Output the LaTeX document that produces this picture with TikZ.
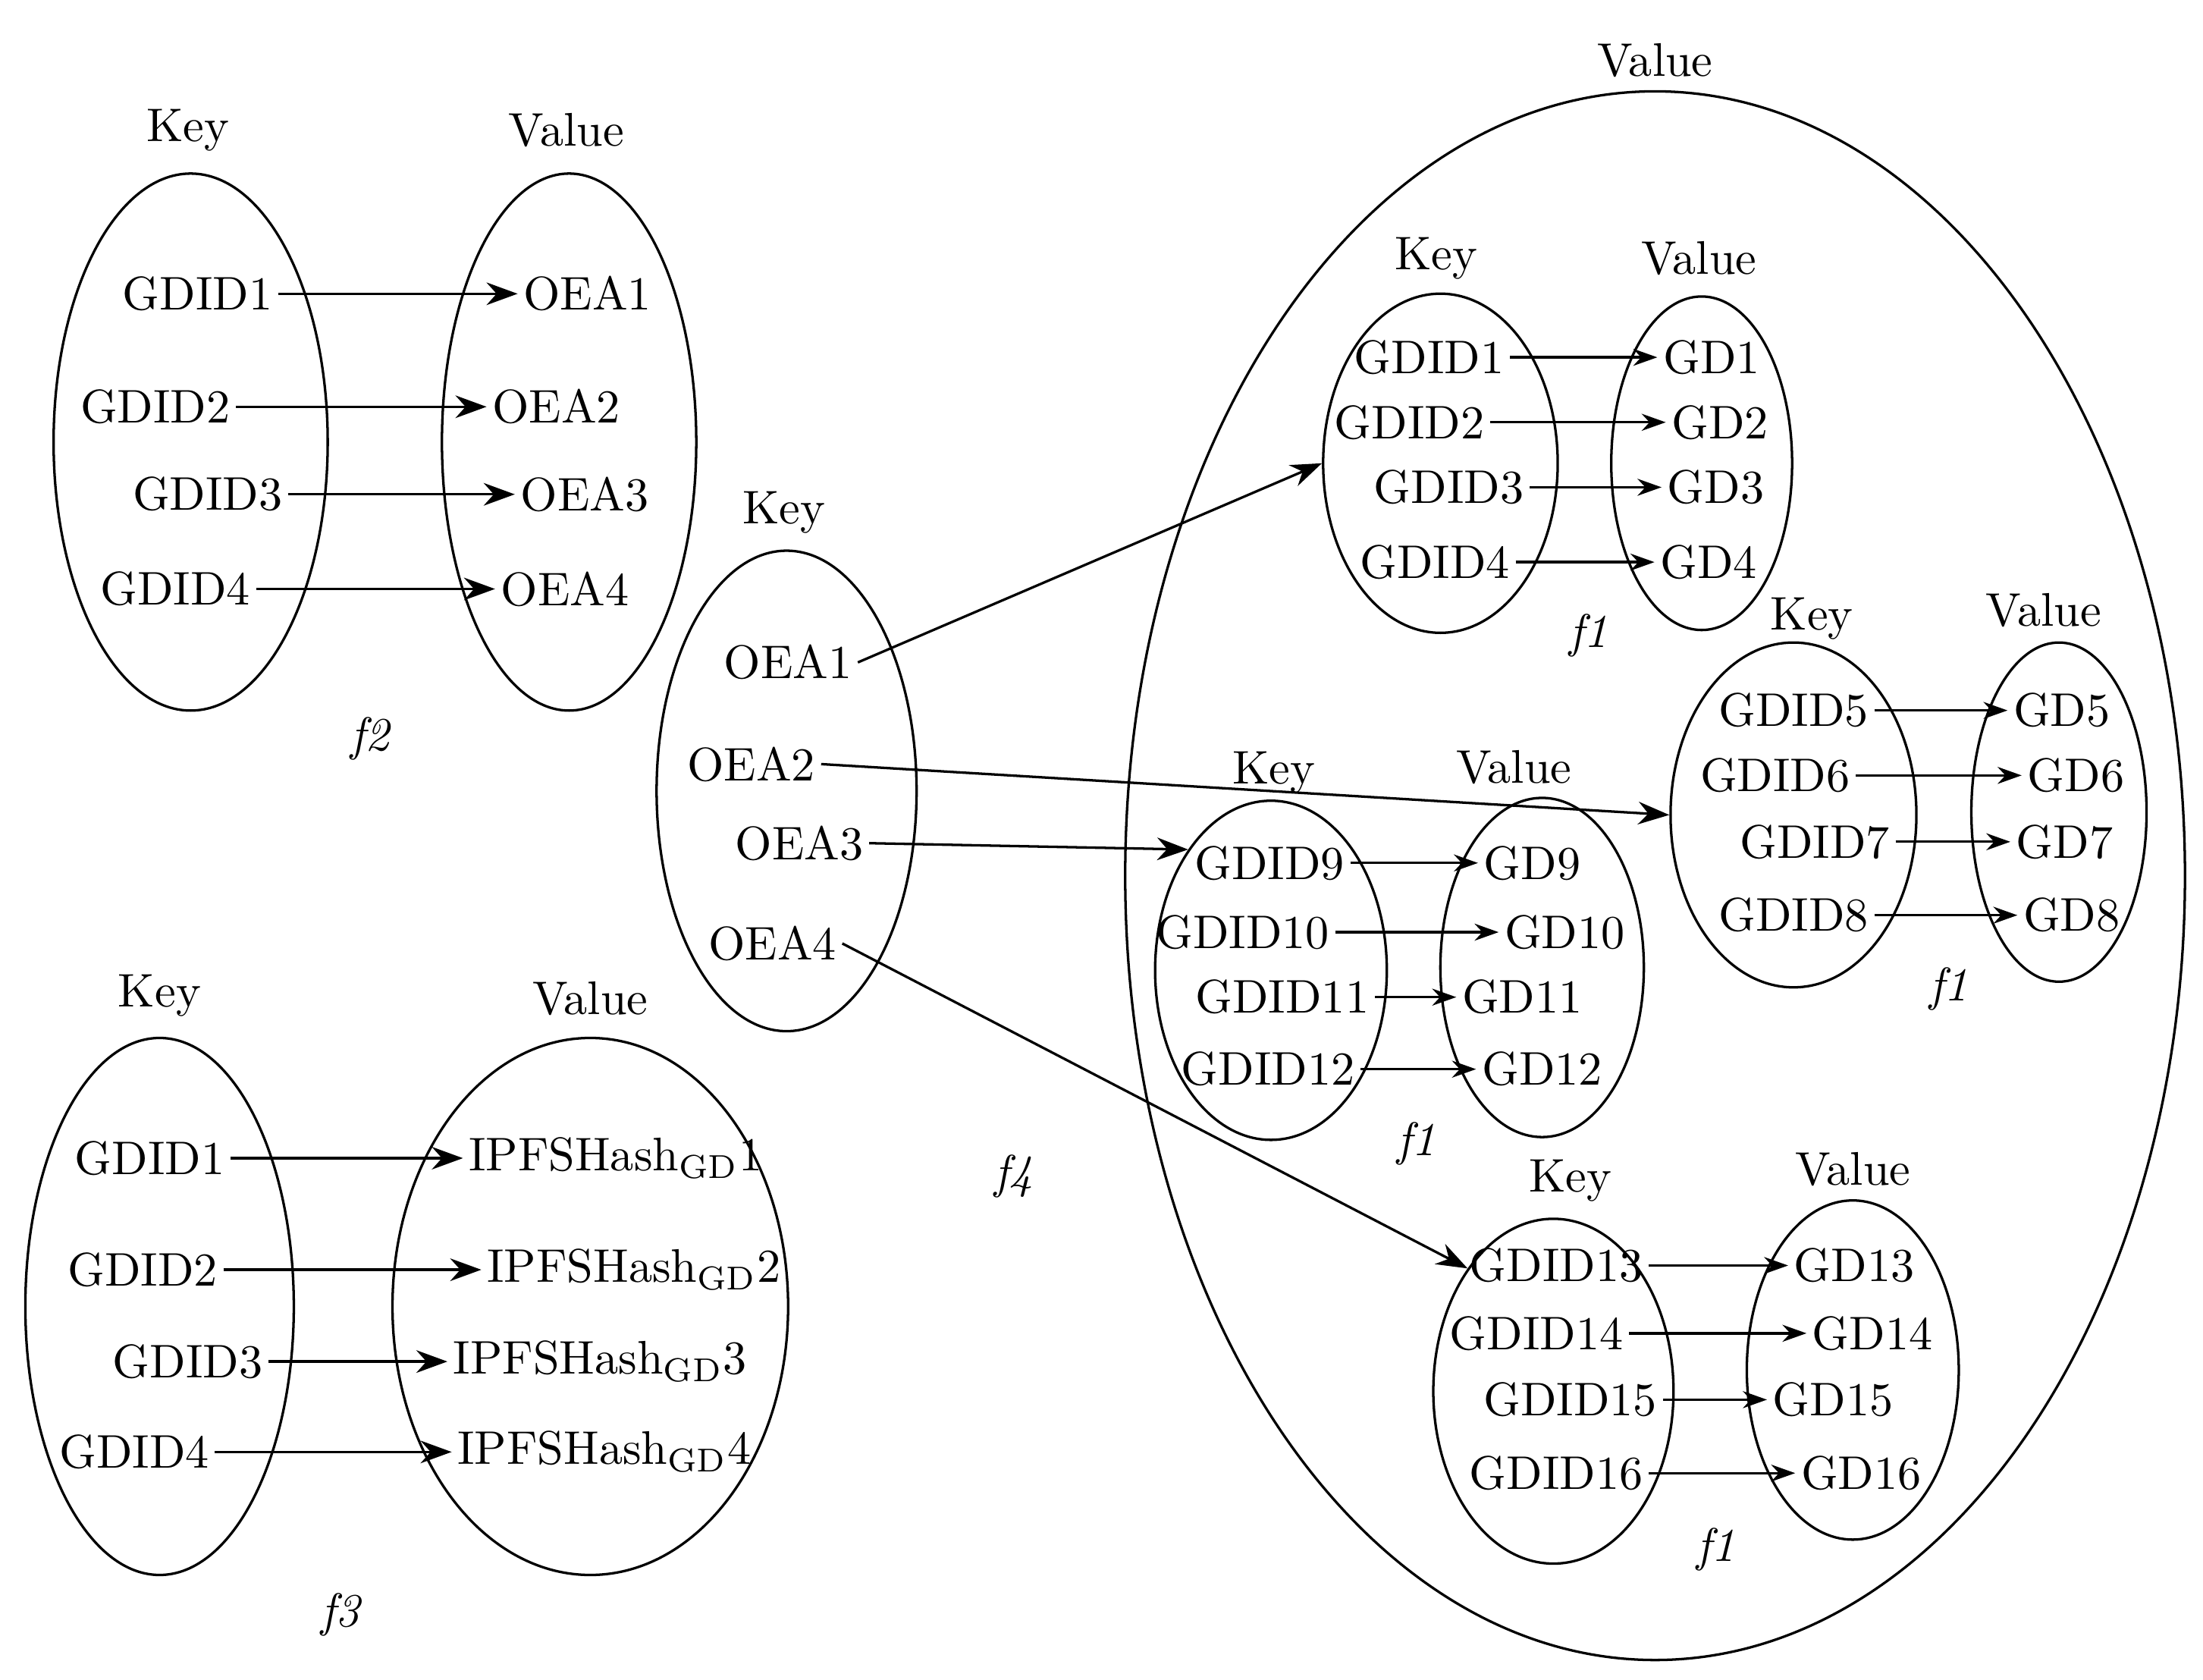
\documentclass[tikz,border=0pt]{standalone}
\usetikzlibrary{shapes.geometric,arrows.meta}
\begin{document}
\begin{tikzpicture}[
 x=0.01cm, y=-0.01cm,
 font=\fontsize{9.5}{11}\selectfont,
 set/.style={draw, ellipse, inner sep=0pt, line width=0.5pt},
 lbl/.style={inner sep=1pt},
 fn/.style={font=\fontsize{9.5}{11}\selectfont\itshape},
 arr/.style={-{Stealth[length=2.2mm,width=1.6mm]}, line width=0.5pt},
 sarr/.style={-{Stealth[length=1.7mm,width=1.2mm]}, line width=0.5pt}
]
\useasboundingbox (0,0) rectangle (1560,1189);

% ---- f2 ----
\node[set, minimum width=1.94cm, minimum height=3.8cm] (f2k) at (135,313) {};
\node[set, minimum width=1.80cm, minimum height=3.8cm] (f2v) at (403,313) {};
\node (f2kl) at (133,92) {Key};
\node (f2vl) at (401,92) {Value};
\node[fn] (f2n) at (262,523) {f2};
\node[lbl] (a1) at (140,208) {GDID1}; \node[lbl] (b1) at (416,208) {OEA1};
\node[lbl] (a2) at (110,288) {GDID2}; \node[lbl] (b2) at (394,288) {OEA2};
\node[lbl] (a3) at (147,350) {GDID3}; \node[lbl] (b3) at (414,350) {OEA3};
\node[lbl] (a4) at (124,417) {GDID4}; \node[lbl] (b4) at (400,417) {OEA4};
\foreach \i in {1,...,4} \draw[arr] (a\i) -- (b\i);

% ---- f3 ----
\node[set, minimum width=1.90cm, minimum height=3.8cm] (f3k) at (113,925) {};
\node[set, minimum width=2.80cm, minimum height=3.8cm] (f3v) at (418,925) {};
\node (f3kl) at (113,705) {Key};
\node (f3vl) at (418,707) {Value};
\node[fn] (f3n) at (241,1143) {f3};
\node[lbl] (c1) at (106,820) {GDID1}; \node[lbl] (d1) at (436,820) {IPFSHash\textsubscript{GD}1};
\node[lbl] (c2) at (101,899) {GDID2}; \node[lbl] (d2) at (449,899) {IPFSHash\textsubscript{GD}2};
\node[lbl] (c3) at (133,964) {GDID3}; \node[lbl] (d3) at (425,964) {IPFSHash\textsubscript{GD}3};
\node[lbl] (c4) at (95,1028) {GDID4}; \node[lbl] (d4) at (428,1028) {IPFSHash\textsubscript{GD}4};
\foreach \i in {1,...,4} \draw[arr] (c\i) -- (d\i);

% ---- f4 ----
\node[set, minimum width=1.84cm, minimum height=3.4cm] (f4k) at (557,560) {};
\node[set, minimum width=7.5cm, minimum height=11.1cm] (f4v) at (1172,620) {};
\node (f4kl) at (555,363) {Key};
\node (f4vl) at (1172,43) {Value};
\node[fn] (f4n) at (718,833) {f4};
\node[lbl] (o1) at (558,469) {OEA1};
\node[lbl] (o2) at (532,541) {OEA2};
\node[lbl] (o3) at (566,597) {OEA3};
\node[lbl] (o4) at (547,668) {OEA4};

% ---- inner f1 sets ----
% group 1
\node[set, minimum width=1.66cm, minimum height=2.4cm] (g1k) at (1020,328) {};
\node[set, minimum width=1.28cm, minimum height=2.36cm] (g1v) at (1205,328) {};
\node (g1kl) at (1017,183) {Key};
\node (g1vl) at (1203,183) {Value};
\node[fn] (g1n) at (1125,450) {f1};
\node[lbl] (k1) at (1012,253) {GDID1}; \node[lbl] (v1) at (1212,253) {GD1};
\node[lbl] (k2) at (998,299) {GDID2};  \node[lbl] (v2) at (1218,299) {GD2};
\node[lbl] (k3) at (1026,345) {GDID3}; \node[lbl] (v3) at (1215,345) {GD3};
\node[lbl] (k4) at (1016,398) {GDID4}; \node[lbl] (v4) at (1210,398) {GD4};
% group 2
\node[set, minimum width=1.74cm, minimum height=2.44cm] (g2k) at (1270,577) {};
\node[set, minimum width=1.24cm, minimum height=2.4cm] (g2v) at (1458,575) {};
\node (g2kl) at (1283,438) {Key};
\node (g2vl) at (1447,432) {Value};
\node[fn] (g2n) at (1380,700) {f1};
\node[lbl] (k5) at (1270,503) {GDID5}; \node[lbl] (v5) at (1460,503) {GD5};
\node[lbl] (k6) at (1257,549) {GDID6}; \node[lbl] (v6) at (1470,549) {GD6};
\node[lbl] (k7) at (1285,596) {GDID7}; \node[lbl] (v7) at (1462,596) {GD7};
\node[lbl] (k8) at (1270,648) {GDID8}; \node[lbl] (v8) at (1467,648) {GD8};
% group 3
\node[set, minimum width=1.64cm, minimum height=2.4cm] (g3k) at (900,687) {};
\node[set, minimum width=1.44cm, minimum height=2.4cm] (g3v) at (1092,685) {};
\node (g3kl) at (902,547) {Key};
\node (g3vl) at (1072,543) {Value};
\node[fn] (g3n) at (1003,810) {f1};
\node[lbl] (k9) at (899,611) {GDID9};   \node[lbl] (v9) at (1085,611) {GD9};
\node[lbl] (k10) at (880,660) {GDID10}; \node[lbl] (v10) at (1108,660) {GD10};
\node[lbl] (k11) at (908,706) {GDID11}; \node[lbl] (v11) at (1078,706) {GD11};
\node[lbl] (k12) at (898,757) {GDID12}; \node[lbl] (v12) at (1092,757) {GD12};
% group 4
\node[set, minimum width=1.70cm, minimum height=2.44cm] (g4k) at (1100,985) {};
\node[set, minimum width=1.50cm, minimum height=2.4cm] (g4v) at (1312,970) {};
\node (g4kl) at (1112,836) {Key};
\node (g4vl) at (1312,828) {Value};
\node[fn] (g4n) at (1215,1097) {f1};
\node[lbl] (k13) at (1102,896) {GDID13}; \node[lbl] (v13) at (1313,896) {GD13};
\node[lbl] (k14) at (1088,944) {GDID14}; \node[lbl] (v14) at (1326,944) {GD14};
\node[lbl] (k15) at (1112,991) {GDID15}; \node[lbl] (v15) at (1298,991) {GD15};
\node[lbl] (k16) at (1102,1043) {GDID16}; \node[lbl] (v16) at (1318,1043) {GD16};
\foreach \i in {1,...,16} \draw[sarr] (k\i) -- (v\i);

% ---- f4 connectors ----
\draw[arr] (o1.east) -- (g1k.west);
\draw[arr] (o2.east) -- (g2k.west);
\draw[arr] (o3.east) -- (g3k.north west);
\draw[arr] (o4.east) -- (g4k.north west);
\end{tikzpicture}
\end{document}
